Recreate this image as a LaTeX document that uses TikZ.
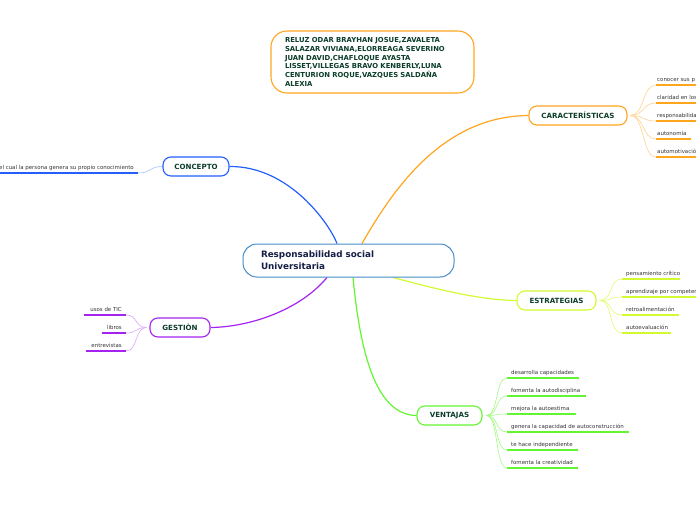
\documentclass[tikz,border=0pt]{standalone}
\usepackage{fontspec}
\setmainfont{DejaVu Sans}
\usetikzlibrary{backgrounds}
\definecolor{txtgreen}{RGB}{12,62,42}
\definecolor{navy}{RGB}{22,30,70}
\definecolor{cblue}{RGB}{35,95,255}
\definecolor{corange}{RGB}{255,165,30}
\definecolor{cyellow}{RGB}{210,250,50}
\definecolor{cpurple}{RGB}{165,35,240}
\definecolor{cgreen}{RGB}{100,245,50}
\definecolor{cborder}{RGB}{70,140,200}
\definecolor{leaftxt}{RGB}{50,50,50}
\tikzset{
  cat/.style={draw, rounded corners=8pt, line width=1.1pt, fill=white, minimum height=19pt,
    inner sep=0pt, font=\fontsize{7.1}{8}\selectfont\bfseries, text=txtgreen},
  mainline/.style={line width=1.2pt},
  leaftext/.style={font=\fontsize{5.45}{6}\selectfont, text=leaftxt, inner sep=0pt},
  twig/.style={line width=0.6pt},
  ulin/.style={line width=1.8pt},
}
\begin{document}
\begin{tikzpicture}[x=1pt,y=-1pt]
\clip (0,0) rectangle (696,520);

% authors box
\node[draw=corange, line width=1.1pt, rounded corners=16pt, fill=white,
  minimum width=203pt, minimum height=62pt, text width=175pt, inner xsep=14pt,
  align=left, font=\fontsize{6.85}{8.8}\selectfont\bfseries, text=txtgreen]
  (authors) at (372.5,62) {RELUZ ODAR BRAYHAN JOSUE,ZAVALETA\\SALAZAR VIVIANA,ELORREAGA SEVERINO\\JUAN DAVID,CHAFLOQUE AYASTA\\LISSET,VILLEGAS BRAVO KENBERLY,LUNA\\CENTURION ROQUE,VAZQUES SALDAÑA\\ALEXIA};

% central
\node[draw=cborder, line width=1pt, rounded corners=14pt, fill=white,
  minimum width=211pt, minimum height=33pt, text width=175pt, inner xsep=18pt,
  align=left, font=\fontsize{8.8}{11.8}\selectfont\bfseries, text=navy]
  (central) at (348.5,260.5) {Responsabilidad social\\Universitaria};

% categories
\node[cat, draw=cblue, minimum width=66pt] (concepto) at (196,166.5) {CONCEPTO};
\node[cat, draw=corange, minimum width=98pt] (car) at (578,115.5) {CARACTERÍSTICAS};
\node[cat, draw=cyellow, minimum width=79pt] (estr) at (556.5,300.5) {ESTRATEGIAS};
\node[cat, draw=cpurple, minimum width=60pt] (gest) at (180,327.5) {GESTIÒN};
\node[cat, draw=cgreen, minimum width=65pt] (vent) at (449.5,415.5) {VENTAJAS};

% leaves: CARACTERISTICAS
\foreach \i/\y/\e/\t in {1/85/700/conocer sus p, 2/103/700/claridad en los,
  3/121/700/responsabilida, 4/139/691/autonomía, 5/157/700/automotivació}{
  \coordinate (car\i s) at (656,\y);
  \coordinate (car\i e) at (\e,\y);
  \node[leaftext, anchor=base west] (car\i t) at (657,\y-4) {\t};
  \draw[ulin, corange] (car\i s) -- (car\i e);
  \begin{scope}[on background layer]
  \draw[twig, corange!50] ([xshift=3pt]car.east) .. controls +(14,0) and +(-14,0) .. (car\i s);
  \end{scope}
}

% leaves: ESTRATEGIAS
\foreach \i/\y/\e/\t in {1/279/680/pensamiento crítico, 2/297/700/aprendizaje por competen,
  3/315/679/retroalimentación, 4/333/671/autoevaluación}{
  \coordinate (es\i s) at (622,\y);
  \coordinate (es\i e) at (\e,\y);
  \node[leaftext, anchor=base west] (es\i t) at (626,\y-4) {\t};
  \draw[ulin, cyellow] (es\i s) -- (es\i e);
  \begin{scope}[on background layer]
  \draw[twig, cyellow!70] ([xshift=3pt]estr.east) .. controls +(14,0) and +(-14,0) .. (es\i s);
  \end{scope}
}

% leaves: VENTAJAS
\foreach \i/\y/\e/\t in {1/378/579/desarrolla capacidades, 2/396/586/fomenta la autodisciplina,
  3/414/576/mejora la autoestima, 4/432/629/genera la capacidad de autoconstrucción,
  5/450/578/te hace independiente, 6/468/578/fomenta la creatividad}{
  \coordinate (ve\i s) at (507,\y);
  \coordinate (ve\i e) at (\e,\y);
  \node[leaftext, anchor=base west] (ve\i t) at (511,\y-4) {\t};
  \draw[ulin, cgreen] (ve\i s) -- (ve\i e);
  \begin{scope}[on background layer]
  \draw[twig, cgreen!60] ([xshift=4pt]vent.east) .. controls +(12,0) and +(-12,0) .. (ve\i s);
  \end{scope}
}

% leaves: GESTION
\foreach \i/\y/\s/\t in {1/315/84/usos de TIC, 2/333/102/libros, 3/351/86/entrevistas}{
  \coordinate (ge\i s) at (\s,\y);
  \coordinate (ge\i e) at (126,\y);
  \node[leaftext, anchor=base east] (ge\i t) at (122,\y-4) {\t};
  \draw[ulin, cpurple] (ge\i s) -- (ge\i e);
  \begin{scope}[on background layer]
  \draw[twig, cpurple!40] ([xshift=-3pt]gest.west) .. controls +(-12,0) and +(12,0) .. (ge\i e);
  \end{scope}
}

% leaf: CONCEPTO
\coordinate (co1s) at (-5,173);
\coordinate (co1e) at (138,173);
\node[leaftext, anchor=base east] (co1t) at (134,169) {el cual la persona genera su propio conocimiento};
\draw[ulin, cblue] (co1s) -- (co1e);
\begin{scope}[on background layer]
\draw[twig, cblue!40] (concepto.west) .. controls +(-14,0) and +(14,0) .. (co1e);
\end{scope}

% main connectors
\begin{scope}[on background layer]
\draw[mainline, cblue] ([xshift=-11.5pt]central.north) .. controls (330,225) and (290,166) .. (concepto.east);
\draw[mainline, corange] ([xshift=13.5pt]central.north) .. controls (390,195) and (440,116) .. (car.west);
\draw[mainline, cyellow] ([xshift=44.5pt]central.south) .. controls (440,290) and (480,300) .. (estr.west);
\draw[mainline, cpurple] ([xshift=-21.5pt]central.south) .. controls (300,310) and (250,327) .. (gest.east);
\draw[mainline, cgreen] ([xshift=4.5pt]central.south) .. controls (360,350) and (375,415) .. (vent.west);
\end{scope}
\end{tikzpicture}
\end{document}
